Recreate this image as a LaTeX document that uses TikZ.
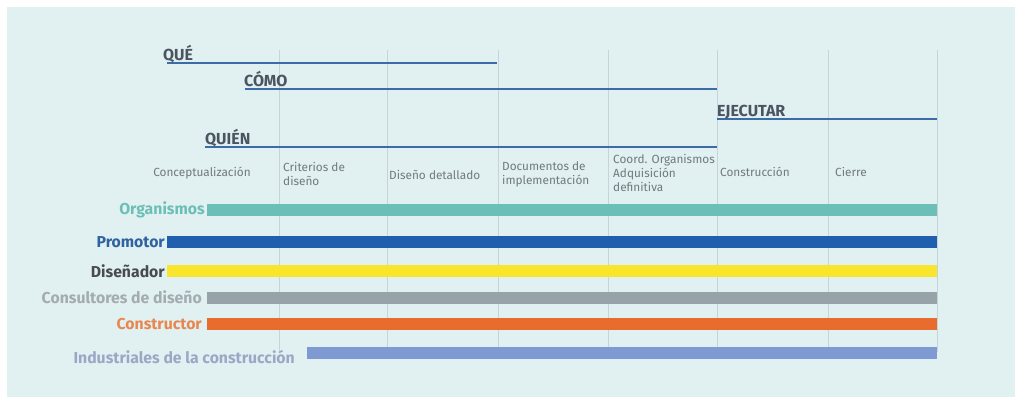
\documentclass[tikz,border=0pt]{standalone}
\usepackage{fontspec}
\setmainfont{Fira Sans}
\definecolor{panel}{HTML}{E1F0F1}
\definecolor{grid}{HTML}{C4D4D8}
\definecolor{hline}{HTML}{3D6BA5}
\definecolor{htext}{HTML}{4A5561}
\definecolor{ptext}{HTML}{707A80}
\definecolor{cOrg}{HTML}{6CBFB6}
\definecolor{cPro}{HTML}{1F5FAE}
\definecolor{tPro}{HTML}{2F62A0}
\definecolor{cDis}{HTML}{F8E52C}
\definecolor{tDis}{HTML}{474C50}
\definecolor{cCon}{HTML}{98A3A9}
\definecolor{tCon}{HTML}{A3ACB1}
\definecolor{cCst}{HTML}{E96C2F}
\definecolor{tCst}{HTML}{E9874F}
\definecolor{cInd}{HTML}{7F99D3}
\definecolor{tInd}{HTML}{9AA8C6}
\begin{document}
\begin{tikzpicture}[x=1pt,y=-1pt,
  gridline/.style={draw=grid,line width=0.8pt},
  headline/.style={draw=hline,line width=2.6pt},
  headtext/.style={anchor=base west,inner sep=0pt,text=htext,font=\fontsize{16}{18}\selectfont\bfseries},
  phasetext/.style={anchor=west,inner sep=0pt,text=ptext,align=left,font=\fontsize{11.8}{14}\selectfont},
  bar/.style={line width=12pt},
  role/.style={anchor=east,inner sep=0pt,font=\fontsize{15.8}{18}\selectfont\bfseries}]
\useasboundingbox (0,0) rectangle (1024,407);
\fill[white] (0,0) rectangle (1024,407);
\fill[panel] (7,7) rectangle (1015,397);
% grid
\foreach \gx [count=\i] in {279,387,498,608,717,828,937}{
  \coordinate (gt\i) at (\gx,50);
  \coordinate (gb\i) at (\gx,352);
  \draw[gridline] (gt\i) -- (gb\i);
}
% headings
\coordinate (qa) at (167,63); \coordinate (qb) at (497,63);
\coordinate (ca) at (245,89); \coordinate (cb) at (717,89);
\coordinate (ea) at (717,119); \coordinate (eb) at (937,119);
\coordinate (wa) at (205,147); \coordinate (wb) at (717,147);
\draw[headline] (qa) -- (qb);
\draw[headline] (ca) -- (cb);
\draw[headline] (ea) -- (eb);
\draw[headline] (wa) -- (wb);
\node[headtext] (que) at (163,60.5) {QUÉ};
\node[headtext] (como) at (244,86.5) {CÓMO};
\node[headtext] (ejec) at (717,116.5) {EJECUTAR};
\node[headtext] (quien) at (205,144.5) {QUIÉN};
% phases
\node[phasetext,anchor=center] (p1) at (202,173) {Conceptualización};
\node[phasetext] (p2) at (283,174) {Criterios de\\diseño};
\node[phasetext] (p3) at (389,175) {Diseño detallado};
\node[phasetext] (p4) at (502,174) {Documentos de\\implementación};
\node[phasetext] (p5) at (613,173) {Coord. Organismos\\Adquisición\\definitiva};
\node[phasetext] (p6) at (720,172) {Construcción};
\node[phasetext] (p7) at (835,172) {Cierre};
% bars
\coordinate (b1a) at (207,210); \coordinate (b1b) at (937,210);
\coordinate (b2a) at (167,242); \coordinate (b2b) at (937,242);
\coordinate (b3a) at (167,271); \coordinate (b3b) at (937,271);
\coordinate (b4a) at (207,297.5); \coordinate (b4b) at (937,297.5);
\coordinate (b5a) at (207,324); \coordinate (b5b) at (937,324);
\coordinate (b6a) at (307,353); \coordinate (b6b) at (937,353);
\draw[bar,cOrg] (b1a) -- (b1b);
\draw[bar,cPro] (b2a) -- (b2b);
\draw[bar,cDis] (b3a) -- (b3b);
\draw[bar,cCon] (b4a) -- (b4b);
\draw[bar,cCst] (b5a) -- (b5b);
\draw[bar,cInd] (b6a) -- (b6b);
% roles
\node[role,text=cOrg] (r1) at ([xshift=-2pt]b1a) {Organismos};
\node[role,text=tPro] (r2) at ([xshift=-2pt]b2a) {Promotor};
\node[role,text=tDis] (r3) at ([xshift=-2pt]b3a) {Diseñador};
\node[role,text=tCon] (r4) at ([xshift=-5pt]b4a) {Consultores de diseño};
\node[role,text=tCst] (r5) at ([xshift=-5pt]b5a) {Constructor};
\node[role,text=tInd] (r6) at ([xshift=-12pt,yshift=-4pt]b6a) {Industriales de la construcción};
\end{tikzpicture}
\end{document}
